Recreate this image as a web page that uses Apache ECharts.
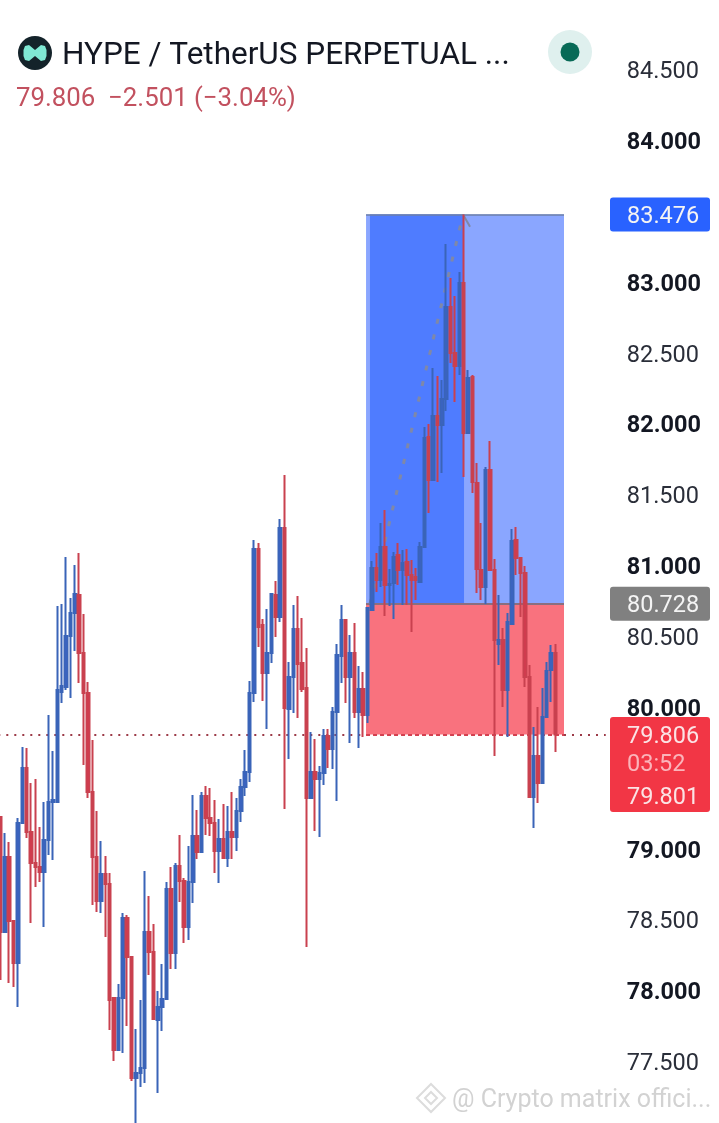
<!DOCTYPE html>
<html><head><meta charset="utf-8">
<style>html,body{margin:0;padding:0;background:#fff}#c{width:719px;height:1123px}</style>
<script src="https://cdn.jsdelivr.net/npm/echarts@6/dist/echarts.min.js"></script>
</head><body><div id="c"></div>
<script>
const opens=[79.224,78.412,78.941,78.490,78.193,79.181,79.570,79.118,78.899,78.871,78.836,79.061,79.330,79.330,80.106,80.141,80.501,80.663,80.790,80.381,
80.099,79.400,78.941,78.631,78.821,78.751,77.946,77.579,77.946,78.511,78.236,77.382,77.417,77.452,78.412,78.271,77.791,77.883,77.939,78.716,
78.264,78.878,78.772,78.447,78.765,79.090,78.977,79.372,79.217,79.181,78.984,79.068,78.934,79.118,79.083,79.266,79.435,79.541,80.099,81.115,
80.579,80.240,80.381,80.790,80.635,81.263,79.986,80.212,80.550,80.311,80.134,79.358,79.541,79.492,79.534,79.795,79.704,79.965,80.360,80.614,
80.212,80.381,79.965,80.127,79.944,80.685,80.981,80.896,81.129,80.861,80.875,81.073,80.967,81.023,80.932,80.917,80.882,81.129,81.905,81.602,
82.054,81.990,82.174,82.823,82.498,82.406,82.992,81.934,82.329,81.581,80.967,80.847,81.672,80.967,80.445,80.473,80.120,80.586,81.178,81.052,
80.946,80.212,79.365,79.654,79.464,79.929,80.261,80.381];
const closes=[78.412,78.941,78.490,78.193,79.181,79.570,79.118,78.899,78.871,78.836,79.061,79.330,79.344,80.120,80.148,80.501,80.663,80.797,80.381,80.099,
79.400,78.941,78.631,78.821,78.751,77.932,77.579,77.946,78.511,78.236,77.382,77.417,77.452,78.412,78.271,77.798,77.883,77.939,78.716,78.264,
78.878,78.772,78.447,78.765,79.090,78.977,79.372,79.217,79.181,78.984,79.068,78.934,79.118,79.083,79.266,79.435,79.541,80.099,81.115,80.565,
80.240,80.381,80.797,80.635,81.263,79.993,80.212,80.550,80.303,80.127,79.358,79.541,79.492,79.534,79.795,79.704,79.965,80.367,80.614,80.212,
80.381,79.965,80.127,79.944,80.699,80.981,80.896,81.129,80.861,80.868,81.059,80.967,81.016,80.932,80.896,80.896,81.129,81.898,81.602,82.054,
81.990,82.174,82.823,82.498,82.406,82.992,81.934,82.322,81.588,80.974,80.847,81.672,80.967,80.473,80.473,80.120,80.600,81.171,81.052,80.946,
80.212,79.365,79.654,79.464,79.929,80.254,80.381,79.806];
const lows=[78.073,78.412,78.052,78.024,77.883,79.181,79.076,78.476,78.730,78.765,78.447,78.956,78.920,79.330,80.028,80.120,80.064,80.395,80.169,79.591,
79.358,78.603,78.553,78.546,78.377,77.721,77.502,77.579,77.558,77.749,77.361,77.064,77.318,77.347,78.109,77.798,77.276,77.714,77.939,78.151,
78.151,78.624,78.335,78.356,78.617,78.927,78.977,79.097,79.090,78.828,78.758,78.934,78.871,78.927,78.984,79.188,79.372,79.471,80.035,80.423,
80.042,79.845,80.311,80.494,80.600,79.280,79.633,79.958,79.922,80.106,78.306,79.358,79.125,79.083,79.450,79.570,79.562,79.337,80.169,80.028,
79.746,79.922,79.711,79.788,79.887,80.685,80.812,80.847,80.642,80.713,80.621,80.861,80.720,80.720,80.529,80.755,80.882,81.129,81.369,81.602,
81.588,81.651,82.089,82.428,82.152,82.343,81.623,81.934,81.510,80.804,80.755,80.727,80.967,79.654,80.296,80.000,79.788,80.586,80.932,80.635,
80.141,79.365,79.146,79.323,79.464,79.929,80.035,79.682];
const highs=[79.224,79.111,79.047,78.490,79.217,79.718,79.711,79.464,79.492,79.153,79.330,79.944,79.689,80.713,80.727,81.059,80.769,81.002,81.087,80.656,
80.176,79.767,79.266,79.054,78.948,78.828,77.946,78.045,78.546,78.532,78.236,77.728,77.932,78.843,78.666,78.469,77.996,78.186,78.765,78.871,
78.899,79.097,78.793,79.019,79.379,79.273,79.400,79.443,79.428,79.344,79.210,79.315,79.301,79.400,79.358,79.492,79.697,80.183,81.178,81.157,
80.621,80.692,80.797,80.889,81.327,81.637,80.318,80.720,80.783,80.628,80.416,79.824,79.774,79.584,79.845,79.845,80.000,80.445,80.720,80.614,
80.508,80.593,80.289,80.247,80.699,81.030,81.087,81.298,81.390,80.974,81.094,81.157,81.108,81.115,81.037,80.981,81.164,81.976,81.997,82.392,
82.336,82.308,83.267,83.027,82.900,83.070,83.476,82.378,82.343,81.722,81.298,81.694,81.877,81.044,80.790,80.557,80.663,81.256,81.270,81.052,
80.995,80.296,79.859,80.000,80.134,80.318,80.438,80.445];

const emptyBars=11;
const categories=Array.from({length:opens.length+emptyBars},(_,i)=>String(i));
const candles=opens.map((o,i)=>[o,closes[i],lows[i],highs[i]]);

const lastPrice=79.806, markPrice=79.801;
const targetPrice=83.476, entryPrice=80.728;
const toolStart=83.65, toolDarkStart=84.55, toolDarkEnd=106.07, toolEnd=128.95;
const pathStart=[84.55,80.728], pathPeak=[105.85,83.476], pathTail=[107.45,83.39];

const chart=echarts.init(document.getElementById('c'),null,{renderer:'canvas'});
const FONT='Roboto';
chart.setOption({
  animation:false,
  backgroundColor:'#fff',
  textStyle:{fontFamily:FONT},
  grid:{left:-1.7,top:-1.5,width:607.43,height:1133.6,containLabel:false,outerBoundsMode:'none'},
  xAxis:[
    {type:'category',data:categories,show:false,boundaryGap:true},
    {type:'value',min:-0.5,max:categories.length-0.5,show:false,splitLine:{show:false}}
  ],
  yAxis:{type:'value',position:'right',min:77,max:85,interval:0.5,scale:true,
    axisLine:{show:false},axisTick:{show:false},splitLine:{show:false},
    axisLabel:{margin:21,
      formatter:v=>(v===85||v===77)?'':(v%1===0?`{b|${v.toFixed(3)}}`:`{n|${v.toFixed(3)}}`),
      rich:{b:{fontFamily:FONT,fontSize:23.5,fontWeight:'bold',color:'#131722',padding:[6,0,0,0]},
            n:{fontFamily:FONT,fontSize:23.5,color:'#2a2e39',padding:[6,0,0,0]}}}},
  series:[
    {type:'line',xAxisIndex:1,yAxisIndex:0,data:[],z:1,silent:true,
     markArea:{silent:true,z:1,itemStyle:{opacity:1},data:[
       [{coord:[toolStart,targetPrice],itemStyle:{color:'#8aa6ff',opacity:1}},{coord:[toolEnd,entryPrice]}],
       [{coord:[toolDarkStart,targetPrice],itemStyle:{color:'#4f7cff',opacity:1}},{coord:[toolDarkEnd,entryPrice]}],
       [{coord:[toolStart,entryPrice],itemStyle:{color:'#f9727e',opacity:1}},{coord:[toolEnd,lastPrice]}]
     ]},
     markLine:{silent:true,z:1,symbol:'none',label:{show:false},animation:false,data:[
       [{coord:[-0.5,lastPrice],lineStyle:{color:'#9c3a48',width:2,type:[2,6]}},{coord:[toolStart,lastPrice]}],
       [{coord:[toolEnd,lastPrice],lineStyle:{color:'#9c3a48',width:2,type:[2,6]}},{coord:[categories.length-0.5,lastPrice]}],
       [{coord:[toolStart,lastPrice],lineStyle:{color:'#d4404f',width:2,type:[4,3]}},{coord:[toolEnd,lastPrice]}],
       [{coord:[toolStart,entryPrice],lineStyle:{color:'#8a6f80',width:2,type:'solid'}},{coord:[toolEnd,entryPrice]}],
       [{coord:[toolStart,targetPrice],lineStyle:{color:'#6d7fa8',width:1.5,type:'solid'}},{coord:[toolEnd,targetPrice]}],
       [{coord:pathStart,lineStyle:{color:'#7f88a8',width:3,type:[5,11]}},{coord:pathPeak}],
       [{coord:pathPeak,lineStyle:{color:'#7f88a8',width:2,type:'solid'}},{coord:pathTail}]
     ]}},
    {type:'candlestick',xAxisIndex:0,yAxisIndex:0,data:candles,barWidth:3,z:3,clip:true,
     itemStyle:{color:'#3a62c6',color0:'#d6394e',borderColor:'#3a64b8',borderColor0:'#c9414f',borderWidth:2}}
  ]
});

const py=v=>chart.convertToPixel({yAxisIndex:0},v);
function tag(value,fill){
  const y=py(value);
  return [
    {type:'rect',z:50,shape:{x:610,y:y-17,width:100,height:34,r:3},style:{fill}},
    {type:'text',z:51,style:{x:627,y:y+2.5,text:value.toFixed(3),fill:'#f4f4f4',font:`23.5px ${FONT}`,textVerticalAlign:'middle'}}
  ];
}
const lastY=py(lastPrice);
chart.setOption({graphic:{elements:[
  {type:'circle',z:50,shape:{cx:35,cy:53,r:17},style:{fill:'#14232a'}},
  {type:'polygon',z:51,shape:{points:[[25,46],[29,45],[35,50],[41,45],[45,46],[46.5,50],[46.5,56],[45,60],[41,61],[35,56],[29,61],[25,60],[23.5,56],[23.5,50]]},style:{fill:'#7fe9d4'}},
  {type:'text',z:50,style:{x:62,y:56,text:'HYPE / TetherUS PERPETUAL ...',fill:'#131722',font:`31.5px ${FONT}`,textVerticalAlign:'middle'}},
  {type:'text',z:50,style:{x:16,y:100,text:'79.806  \u22122.501 (\u22123.04%)',fill:'#c2515f',font:`25.8px ${FONT}`,textVerticalAlign:'middle'}},
  {type:'circle',z:50,shape:{cx:570,cy:52,r:22},style:{fill:'#dff0ee'}},
  {type:'circle',z:51,shape:{cx:570,cy:52,r:9.5},style:{fill:'#086a57'}},
  ...tag(targetPrice,'#2962ff'),
  ...tag(entryPrice,'#808080'),
  {type:'rect',z:50,shape:{x:610,y:lastY-17.5,width:100,height:95,r:3},style:{fill:'#f23645'}},
  {type:'text',z:51,style:{x:627,y:lastY+2.5,text:lastPrice.toFixed(3),fill:'#fbe3e5',font:`23.5px ${FONT}`,textVerticalAlign:'middle'}},
  {type:'text',z:51,style:{x:627,y:lastY+31,text:'03:52',fill:'#fbb4ba',font:`23.5px ${FONT}`,textVerticalAlign:'middle'}},
  {type:'text',z:51,style:{x:627,y:lastY+64,text:markPrice.toFixed(3),fill:'#fbe3e5',font:`23.5px ${FONT}`,textVerticalAlign:'middle'}},
  {type:'polygon',z:50,shape:{points:[[431,1084],[445,1098],[431,1112],[417,1098]]},style:{fill:'none',stroke:'#dcdcdc',lineWidth:2}},
  {type:'polygon',z:50,shape:{points:[[431,1092],[437,1098],[431,1104],[425,1098]]},style:{fill:'none',stroke:'#dcdcdc',lineWidth:2}},
  {type:'text',z:50,style:{x:452,y:1101,text:'@ Crypto matrix offici...',fill:'#d2d2d2',font:`25px ${FONT}`,textVerticalAlign:'middle'}}
]}});
</script></body></html>
